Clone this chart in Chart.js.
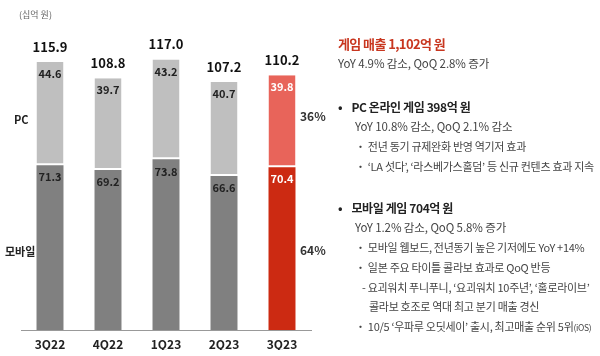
<!DOCTYPE html>
<html>
<head>
<meta charset="utf-8">
<script src="https://cdn.jsdelivr.net/npm/chart.js@4.4.0/dist/chart.umd.min.js"></script>
<style>
  html, body { margin: 0; padding: 0; background: #fff; }
  body { width: 600px; height: 356px; position: relative; overflow: hidden;
         font-family: "Noto Sans CJK KR", "Noto Sans", sans-serif; }
  #wrap { position: absolute; left: 0; top: 0; width: 600px; height: 356px; }
  .t { position: absolute; white-space: nowrap; line-height: 1; }
  .unit { left: 19px; top: 10px; font-size: 9px; color: #666; }
  .ser { font-size: 11px; font-weight: 700; color: #222; }
  .pct { font-size: 12px; font-weight: 700; color: #333; }
  .title { left: 338px; top: 37px; font-size: 13px; letter-spacing: -0.6px; font-weight: 700; color: #c8361f; }
  .sub { font-size: 11.5px; letter-spacing: -0.1px; color: #444; }
  .head { font-size: 12px; letter-spacing: -0.4px; font-weight: 700; color: #222; }
  .bul { font-size: 11px; letter-spacing: -0.3px; color: #444; }
</style>
</head>
<body>
<div id="wrap"><canvas id="c" width="600" height="356"></canvas></div>
<div class="t unit">(십억 원)</div>
<div class="t ser" style="left:14px; top:114px;">PC</div>
<div class="t ser" style="left:5px; top:246px;">모바일</div>
<div class="t pct" style="left:300px; top:110px;">36%</div>
<div class="t pct" style="left:300px; top:244px;">64%</div>

<div class="t title">게임 매출 1,102억 원</div>
<div class="t sub" style="left:338px; top:58px;">YoY 4.9% 감소, QoQ 2.8% 증가</div>

<div class="t head" style="left:338px; top:101px;">•&nbsp;&nbsp;&nbsp;&nbsp;PC 온라인 게임 398억 원</div>
<div class="t sub" style="left:355px; top:121px;">YoY 10.8% 감소, QoQ 2.1% 감소</div>
<div class="t bul" style="left:355px; top:141px;">・ 전년 동기 규제완화 반영 역기저 효과</div>
<div class="t bul" style="left:355px; top:161px;">・ ‘LA 섯다’, ‘라스베가스홀덤’ 등 신규 컨텐츠 효과 지속</div>

<div class="t head" style="left:338px; top:202px;">•&nbsp;&nbsp;&nbsp;&nbsp;모바일 게임 704억 원</div>
<div class="t sub" style="left:355px; top:222px;">YoY 1.2% 감소, QoQ 5.8% 증가</div>
<div class="t bul" style="left:355px; top:242px;">・ 모바일 웹보드, 전년동기 높은 기저에도 YoY +14%</div>
<div class="t bul" style="left:355px; top:262px;">・ 일본 주요 타이틀 콜라보 효과로 QoQ 반등</div>
<div class="t bul" style="left:362px; top:282px;">- 요괴워치 푸니푸니, ‘요괴워치 10주년’, ‘홀로라이브’</div>
<div class="t bul" style="left:369px; top:301px;">콜라보 호조로 역대 최고 분기 매출 경신</div>
<div class="t bul" style="left:355px; top:321px;">・ 10/5 ‘우파루 오딧세이’ 출시, 최고매출 순위 5위<span style="font-size:8.5px">(iOS)</span></div>

<script>
const categories = ["3Q22", "4Q22", "1Q23", "2Q23", "3Q23"];
const mobileValues = [71.3, 69.2, 73.8, 66.6, 70.4];
const pcValues = [44.6, 39.7, 43.2, 40.7, 39.8];
const totalValues = [115.9, 108.8, 117.0, 107.2, 110.2];

const mobileColors = ["#808080", "#808080", "#808080", "#808080", "#cc2a12"];
const pcColors = ["#bfbfbf", "#bfbfbf", "#bfbfbf", "#bfbfbf", "#e8645a"];
const labelColors = ["#222", "#222", "#222", "#222", "#fff"];

const labelPlugin = {
  id: "labels",
  afterDatasetsDraw(chart) {
    const ctx = chart.ctx;
    const y = chart.scales.y;
    ctx.save();
    ctx.textAlign = "center";
    ctx.textBaseline = "middle";
    chart.data.datasets.forEach((ds, di) => {
      const meta = chart.getDatasetMeta(di);
      meta.data.forEach((el, i) => {
        ctx.font = "700 11px 'Noto Sans CJK KR', sans-serif";
        ctx.fillStyle = labelColors[i];
        ctx.fillText(ds.data[i].toFixed(1), el.x, el.y + 12);
      });
    });
    const meta0 = chart.getDatasetMeta(0);
    totalValues.forEach((v, i) => {
      ctx.font = "700 13px 'Noto Sans CJK KR', sans-serif";
      ctx.fillStyle = "#111";
      ctx.fillText(v.toFixed(1), meta0.data[i].x, y.getPixelForValue(v) - 15);
    });
    ctx.restore();
  }
};

new Chart(document.getElementById("c"), {
  type: "bar",
  data: {
    labels: categories,
    datasets: [
      { label: "모바일", data: mobileValues, backgroundColor: mobileColors, borderWidth: 0 },
      { label: "PC", data: pcValues, backgroundColor: pcColors,
        borderColor: "#ffffff", borderWidth: { bottom: 2, top: 0, left: 0, right: 0 }, borderSkipped: false }
    ]
  },
  options: {
    responsive: false,
    animation: false,
    events: [],
    layout: { padding: { left: 21, right: 289, top: 41, bottom: 6 } },
    datasets: { bar: { barPercentage: 0.93, categoryPercentage: 0.5 } },
    plugins: { legend: { display: false }, tooltip: { enabled: false } },
    scales: {
      x: {
        stacked: true,
        grid: { display: false },
        border: { display: true, color: "#999", width: 1 },
        afterFit(scale) { scale.height = 20; },
        ticks: { color: "#222", padding: -1, font: { family: "'Noto Sans CJK KR', sans-serif", size: 12, weight: "700" } }
      },
      y: {
        stacked: true, display: false, min: 0, max: 125
      }
    }
  },
  plugins: [labelPlugin]
});
</script>
</body>
</html>
